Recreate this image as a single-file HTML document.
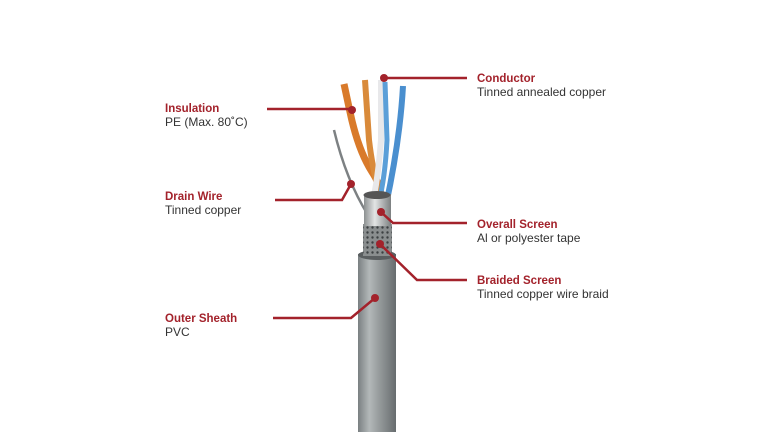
<!DOCTYPE html>
<html><head><meta charset="utf-8"><style>
html,body{margin:0;padding:0;background:#fff;}
svg{display:block;}
.t{font-family:"Liberation Sans",sans-serif;font-size:11.5px;font-weight:bold;fill:#a3222b;}
.s{font-family:"Liberation Sans",sans-serif;font-size:12px;fill:#333;}
</style></head><body>
<svg width="768" height="432" viewBox="0 0 768 432">
<defs>
<linearGradient id="sh" x1="0" x2="1">
<stop offset="0" stop-color="#7a8082"/><stop offset="0.3" stop-color="#b3b8b9"/><stop offset="0.55" stop-color="#979c9d"/><stop offset="1" stop-color="#676c6e"/></linearGradient>
<linearGradient id="fo" x1="0" x2="1">
<stop offset="0" stop-color="#8c9091"/><stop offset="0.4" stop-color="#e2e4e4"/><stop offset="1" stop-color="#7c8081"/></linearGradient>
<pattern id="br" width="5" height="5" patternUnits="userSpaceOnUse">
<rect width="5" height="5" fill="#8a8e8f"/><circle cx="2.5" cy="2.5" r="1.2" fill="#3c4042"/></pattern>
</defs>
<!-- wires -->
<path d="M344 84 L350 112 Q358 150 372 172 Q384 190 380 205" stroke="#d97a2a" stroke-width="7" fill="none"/>
<path d="M365 80 L369 140 Q373 175 382 200" stroke="#d98a3a" stroke-width="6" fill="none"/>
<path d="M381 80 L381 140 Q378 180 372 205" stroke="#e8e8ea" stroke-width="6" fill="none"/>
<path d="M403 86 Q400 140 386 205" stroke="#4a8fcf" stroke-width="6" fill="none"/>
<path d="M385 82 L387 140 Q385 180 378 205" stroke="#5b9fd8" stroke-width="5" fill="none"/>
<path d="M334 130 Q346 180 368 215" stroke="#7d8183" stroke-width="2.5" fill="none"/>
<!-- sheath -->
<rect x="358" y="254" width="38" height="178" fill="url(#sh)"/>
<ellipse cx="377" cy="255" rx="19" ry="5" fill="#5a5e60"/>
<!-- braid -->
<rect x="363" y="224" width="29" height="32" fill="url(#br)"/>
<!-- foil -->
<rect x="364" y="194" width="27" height="32" fill="url(#fo)"/>
<ellipse cx="377" cy="195" rx="13.5" ry="4" fill="#555"/>
<!-- leader lines -->
<g stroke="#a3222b" stroke-width="2.5" fill="none">
<path d="M384 78 H467"/>
<path d="M267 109 H352"/>
<path d="M275 200 H342 L351 184"/>
<path d="M381 212 L393 223 H467"/>
<path d="M380 244 L417 280 H467"/>
<path d="M375 298 L351 318 H273"/>
</g>
<g fill="#a3222b">
<circle cx="384" cy="78" r="4"/><circle cx="352" cy="110" r="4"/><circle cx="351" cy="184" r="4"/>
<circle cx="381" cy="212" r="4"/><circle cx="380" cy="244" r="4"/><circle cx="375" cy="298" r="4"/>
</g>
<text class="t" x="477" y="82">Conductor</text><text class="s" x="477" y="96">Tinned annealed copper</text>
<text class="t" x="477" y="228">Overall Screen</text><text class="s" x="477" y="242">Al or polyester tape</text>
<text class="t" x="477" y="284">Braided Screen</text><text class="s" x="477" y="298">Tinned copper wire braid</text>
<text class="t" x="165" y="112">Insulation</text><text class="s" x="165" y="126">PE (Max. 80˚C)</text>
<text class="t" x="165" y="200">Drain Wire</text><text class="s" x="165" y="214">Tinned copper</text>
<text class="t" x="165" y="322">Outer Sheath</text><text class="s" x="165" y="336">PVC</text>
</svg>
</body></html>
